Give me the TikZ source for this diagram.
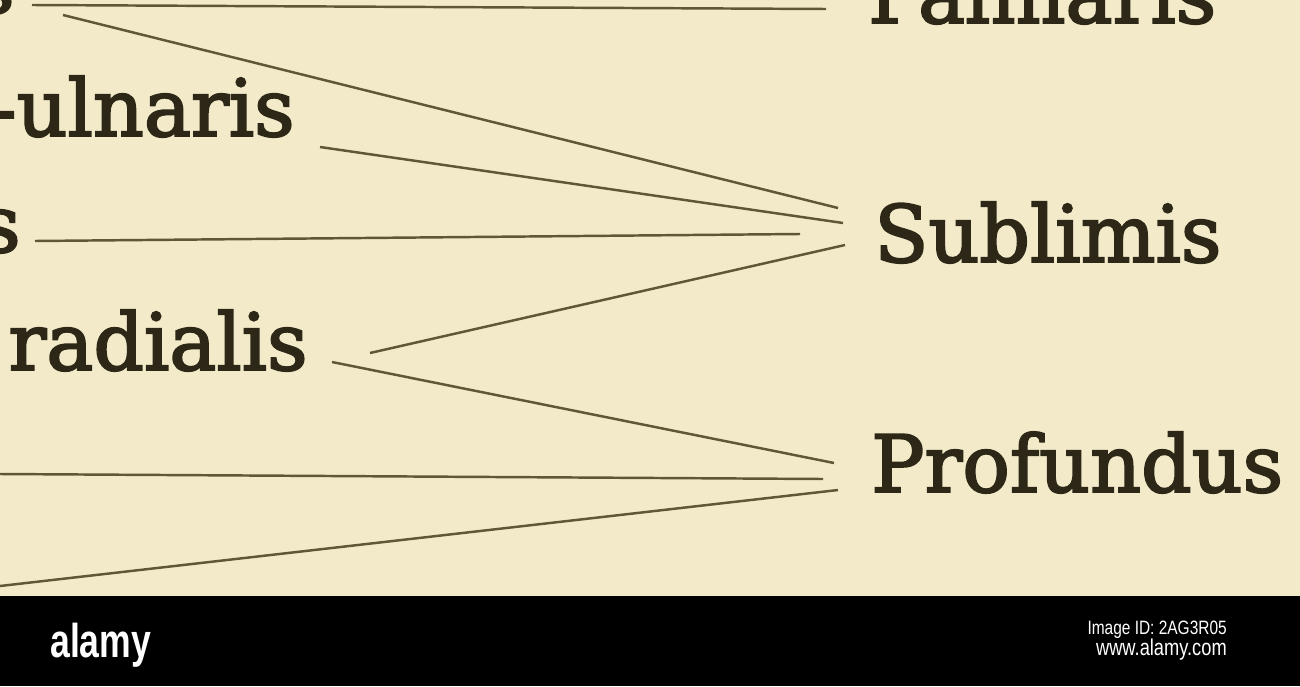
\documentclass[tikz,border=0pt]{standalone}
\usepackage{fontspec}
\setmainfont{DejaVu Serif}[BoldFont=DejaVu Serif,BoldFeatures={FakeBold=2.5}]
\setsansfont{Liberation Sans}
\usetikzlibrary{positioning}
\definecolor{paper}{HTML}{F2EAC8}
\definecolor{ink}{HTML}{2C2717}
\definecolor{pencil}{HTML}{5E5838}

\begin{document}
\begin{tikzpicture}[x=0.02cm,y=-0.02cm,
                    muscle/.style={font=\bfseries\fontsize{45}{50}\selectfont,text=ink,inner sep=0pt},
                    stamp/.style={font=\sffamily,text=white,inner sep=0pt},
                    nerve/.style={draw=pencil,line width=1.4pt}]
  \useasboundingbox (0,0) rectangle (1300,686);
  \fill[paper] (0,0) rectangle (1300,596);
  \fill[black] (0,596) rectangle (1300,686);
  \clip (0,0) rectangle (1300,686);

  % muscles on the left (cut by the page edge)
  \node[muscle,anchor=base east] (m1) at (15,13) {s};
  \node[muscle,anchor=base east] (m2) at (295,136) {-ulnaris};
  \node[muscle,anchor=base east] (m3) at (21,252) {s};
  \node[muscle,anchor=base east] (m4) at (308,370) {radialis};

  % nerves on the right
  \node[muscle,anchor=base west] (pal) at (868,23) {Palmaris};
  \node[muscle,anchor=base west] (sub) at (874,262) {Sublimis};
  \node[muscle,anchor=base west] (pro) at (871,492) {Profundus};

  % line ends
  \coordinate (m1a) at (32,5);    \coordinate (pal1) at (826,9);
  \coordinate (m1b) at (63,15);   \coordinate (sub1) at (838,208);
  \coordinate (m2a) at (320,147); \coordinate (sub2) at (843,223);
  \coordinate (m3a) at (35,241);  \coordinate (sub3) at (800,234);
  \coordinate (m4a) at (370,353); \coordinate (sub4) at (845,245);
  \coordinate (m4b) at (332,362); \coordinate (pro1) at (834,463);
  \coordinate (m5a) at (0,474);   \coordinate (pro2) at (823,479);
  \coordinate (m6a) at (0,586);   \coordinate (pro3) at (838,490);

  \path[nerve]
    (m1a) edge (pal1)
    (m1b) edge (sub1)
    (m2a) edge (sub2)
    (m3a) edge (sub3)
    (m4a) edge (sub4)
    (m4b) edge (pro1)
    (m5a) edge (pro2)
    (m6a) edge (pro3)
    ;

  % stock band
  \node[stamp,anchor=base west,xscale=0.75,font=\sffamily\bfseries\fontsize{27}{30}\selectfont] (logo) at (50,657) {alamy};
  \node[stamp,anchor=base east,xscale=0.8,font=\sffamily\fontsize{11}{13}\selectfont] (imgid) at (1227,634) {Image ID: 2AG3R05};
  \node[stamp,anchor=base east,xscale=0.8,font=\sffamily\fontsize{13}{15}\selectfont] (www) at (1227,655) {www.alamy.com};
\end{tikzpicture}
\end{document}
